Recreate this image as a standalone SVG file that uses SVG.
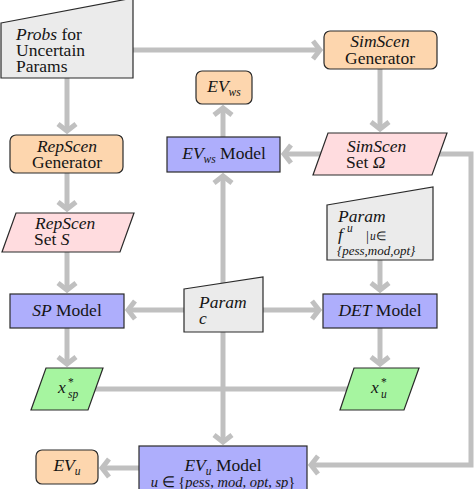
<svg xmlns="http://www.w3.org/2000/svg" width="474" height="489" viewBox="0 0 474 489" font-family="Liberation Serif, serif">
<style>
text{font-size:17.5px;fill:#151515}
.i{font-style:italic}
.s{font-size:11.5px}
.m{font-size:14.5px}
.c{fill:none;stroke:#c0c0c0;stroke-width:5}
.n{stroke:#2a2a2a;stroke-width:1.2}
.or{fill:#fdd6ae}
.bl{fill:#aeaefc}
.pk{fill:#ffdcdf}
.gr{fill:#a6f5a0}
.gy{fill:#ebebeb}
</style>
<defs>
<marker id="ah" viewBox="-12 -12 16 24" refX="0" refY="0" markerWidth="16" markerHeight="24" orient="auto" markerUnits="userSpaceOnUse">
<path d="M -7 -9 L 0 0 L -7 9" fill="none" stroke="#c0c0c0" stroke-width="5"/>
</marker>
</defs>
<rect width="474" height="489" fill="#ffffff"/>
<g id="connectors">
<path class="c" d="M133 50 H320" marker-end="url(#ah)"/>
<path class="c" d="M67 78 V131" marker-end="url(#ah)"/>
<path class="c" d="M67 173 V209" marker-end="url(#ah)"/>
<path class="c" d="M67 252 V290" marker-end="url(#ah)"/>
<path class="c" d="M67 328 V364" marker-end="url(#ah)"/>
<path class="c" d="M380 69 V129" marker-end="url(#ah)"/>
<path class="c" d="M380 260 V290" marker-end="url(#ah)"/>
<path class="c" d="M380 328 V364" marker-end="url(#ah)"/>
<path class="c" d="M321 154 H284" marker-end="url(#ah)"/>
<path class="c" d="M439 154 H471 V465 H311" marker-end="url(#ah)"/>
<path class="c" d="M184 310 H128" marker-end="url(#ah)"/>
<path class="c" d="M263 310 H319" marker-end="url(#ah)"/>
<path class="c" d="M223 284 V176" marker-end="url(#ah)"/>
<path class="c" d="M223 137 V108" marker-end="url(#ah)"/>
<path class="c" d="M223 332 V442" marker-end="url(#ah)"/>
<path class="c" d="M139 468 H102" marker-end="url(#ah)"/>
<path class="c" d="M95 389 H348"/>
</g>
<g id="probs">
<polygon class="n gy" points="1,23 133,-2 133,78 1,78"/>
<text x="16" y="40"><tspan class="i">Probs</tspan> for</text>
<text x="16" y="56">Uncertain</text>
<text x="16" y="72">Params</text>
</g>
<g id="simscen-gen">
<rect class="n or" x="324" y="31" width="113" height="38" rx="6"/>
<text class="i" x="380" y="47" text-anchor="middle">SimScen</text>
<text x="380" y="64" text-anchor="middle">Generator</text>
</g>
<g id="repscen-gen">
<rect class="n or" x="10" y="135" width="113" height="38" rx="6"/>
<text class="i" x="67" y="152" text-anchor="middle">RepScen</text>
<text x="67" y="168" text-anchor="middle">Generator</text>
</g>
<g id="evws">
<rect class="n or" x="196" y="71" width="56" height="33" rx="6"/>
<text x="224" y="92" text-anchor="middle"><tspan class="i">EV</tspan><tspan class="s i" dy="4">ws</tspan></text>
</g>
<g id="evws-model">
<rect class="n bl" x="167" y="137" width="113" height="35"/>
<text x="224" y="159" text-anchor="middle"><tspan class="i">EV</tspan><tspan class="s i" dy="4">ws</tspan><tspan dy="-4"> Model</tspan></text>
</g>
<g id="simscen-set">
<polygon class="n pk" points="328,133 447,133 432,175 313,175"/>
<text class="i" x="347" y="152">SimScen</text>
<text x="346" y="168">Set <tspan class="i">Ω</tspan></text>
</g>
<g id="repscen-set">
<polygon class="n pk" points="16,213 134,213 120,252 2,252"/>
<text class="i" x="35" y="229">RepScen</text>
<text x="34" y="245">Set <tspan class="i">S</tspan></text>
</g>
<g id="param-f">
<polygon class="n gy" points="327,205 433,187 433,260 327,260"/>
<text class="i" x="338" y="222">Param</text>
<text class="i" x="338" y="240">f</text>
<text class="s i" x="347" y="232">u</text>
<text class="m" x="366" y="241">|</text>
<text class="s" x="370" y="240"><tspan class="i">u</tspan>∈</text>
<text class="i" x="337" y="255" style="font-size:13px">{pess,mod,opt}</text>
</g>
<g id="param-c">
<polygon class="n gy" points="184,289 263,277 263,332 184,332"/>
<text class="i" x="199" y="308">Param</text>
<text class="i" x="199" y="324">c</text>
</g>
<g id="sp-model">
<rect class="n bl" x="10" y="294" width="114" height="34"/>
<text x="67" y="316" text-anchor="middle"><tspan class="i">SP</tspan> Model</text>
</g>
<g id="det-model">
<rect class="n bl" x="323" y="294" width="114" height="34"/>
<text x="380" y="316" text-anchor="middle"><tspan class="i">DET</tspan> Model</text>
</g>
<g id="xsp">
<polygon class="n gr" points="46,368 103,368 88,410 31,410"/>
<text class="i" x="58" y="393">x</text>
<text class="s" x="68" y="386">*</text>
<text class="s i" x="68" y="398">sp</text>
</g>
<g id="xu">
<polygon class="n gr" points="354,368 419,368 404,410 340,410"/>
<text class="i" x="371" y="393">x</text>
<text class="s" x="381" y="386">*</text>
<text class="s i" x="381" y="398">u</text>
</g>
<g id="evu-model">
<rect class="n bl" x="139" y="446" width="168" height="46"/>
<text x="223" y="471" text-anchor="middle"><tspan class="i">EV</tspan><tspan class="s i" dy="4">u</tspan><tspan dy="-4"> Model</tspan></text>
<text class="m" x="223" y="487" text-anchor="middle"><tspan class="i">u</tspan> ∈ {<tspan class="i">pess</tspan>, <tspan class="i">mod</tspan>, <tspan class="i">opt</tspan>, <tspan class="i">sp</tspan>}</text>
</g>
<g id="evu">
<rect class="n or" x="36" y="450" width="62" height="34" rx="6"/>
<text x="67" y="471" text-anchor="middle"><tspan class="i">EV</tspan><tspan class="s i" dy="4">u</tspan></text>
</g>
</svg>
